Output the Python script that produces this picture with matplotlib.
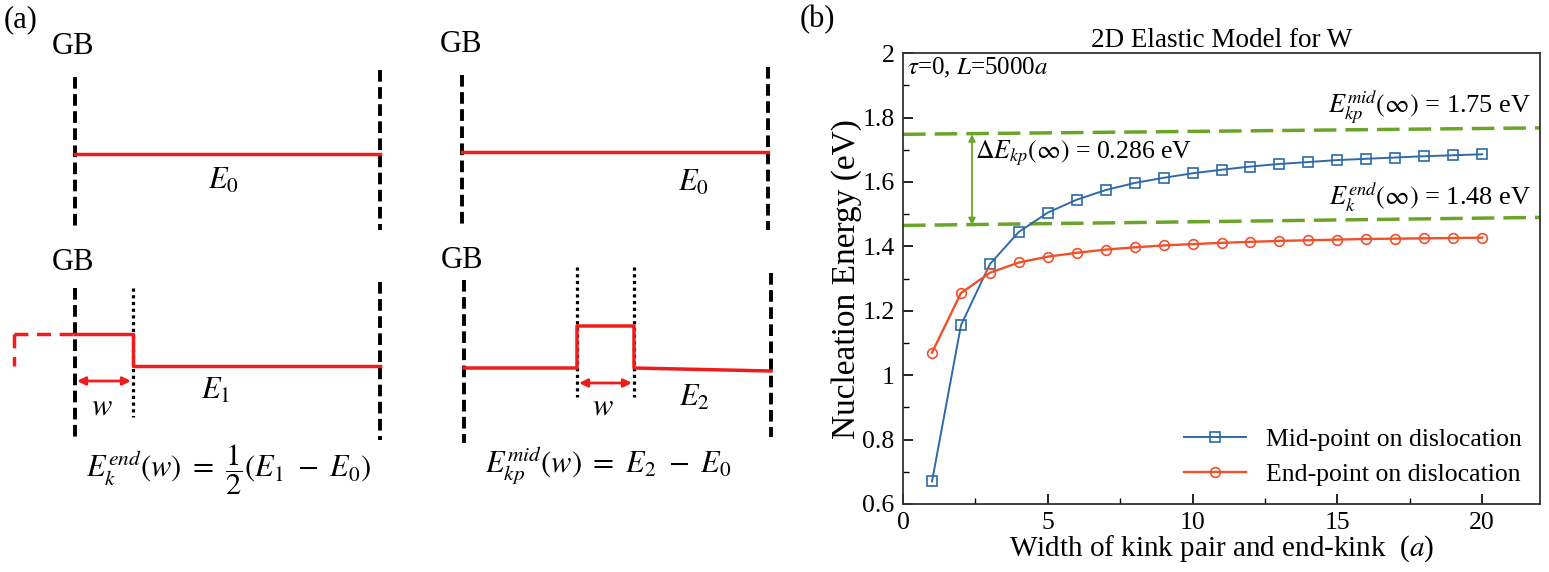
import matplotlib
matplotlib.use("Agg")
import matplotlib.pyplot as plt

plt.rcParams["font.family"] = ["Liberation Serif", "DejaVu Serif"]
plt.rcParams["mathtext.fontset"] = "stix"

# panel (b) data
width = list(range(1, 21))
e_mid = [0.670, 1.155, 1.345, 1.445, 1.505, 1.545, 1.575, 1.597, 1.613, 1.627,
         1.638, 1.648, 1.656, 1.662, 1.668, 1.672, 1.676, 1.680, 1.683, 1.686]
e_end = [1.070, 1.255, 1.318, 1.350, 1.368, 1.380, 1.390, 1.397, 1.403, 1.407,
         1.411, 1.414, 1.417, 1.419, 1.421, 1.423, 1.424, 1.425, 1.426, 1.427]
ref_x = [0, 22]
ref_mid = [1.748, 1.768]
ref_end = [1.465, 1.490]

BLUE = "#2f6aa6"
RED = "#f0502a"
GREEN = "#6aa52a"
SRED = "#ee1c1c"

fig = plt.figure(figsize=(15.49, 5.72), dpi=100)

# ---- panel (a): schematic drawn in pixel coordinates
sk = fig.add_axes([0, 0, 1, 1])
sk.set_xlim(0, 1549)
sk.set_ylim(572, 0)
sk.axis("off")

dash = dict(color="black", lw=2.8, ls=(0, (3.0, 1.4)))
dots = dict(color="black", lw=2.3, ls=(0, (1, 1.1)))
red = dict(color=SRED, lw=2.5)

# vertical boundaries: (x, y_top, y_bottom)
gb_dashed = [(75, 77, 230), (380, 70, 230), (462, 75, 227), (768, 67, 230),
             (75, 288, 440), (380, 282, 440), (464, 280, 443), (771, 273, 437)]
for x, y0, y1 in gb_dashed:
    sk.plot([x, x], [y0, y1], **dash)
kink_dotted = [(133, 288, 417), (577, 267, 397), (634, 267, 397)]
for x, y0, y1 in kink_dotted:
    sk.plot([x, x], [y0, y1], **dots)

# straight dislocations
sk.plot([75, 380], [154, 154], **red)
sk.plot([462, 768], [152, 152], **red)
# end kink
sk.plot([75, 133, 133, 380], [334, 334, 366, 366], **red)
sk.plot([14, 75], [334, 334], color=SRED, lw=2.5, ls=(0, (4, 2.5)))
sk.plot([14, 14], [334, 366], color=SRED, lw=2.5, ls=(0, (4, 2.5)))
# kink pair
sk.plot([464, 577, 577, 634, 634, 771], [368, 368, 326, 326, 368, 371], **red)

arrow = dict(arrowstyle="<|-|>", color=SRED, lw=2, mutation_scale=12,
             shrinkA=0, shrinkB=0)
sk.annotate("", xy=(77, 381), xytext=(131, 381), arrowprops=arrow)
sk.annotate("", xy=(579, 383), xytext=(632, 383), arrowprops=arrow)

tk = dict(fontsize=22, va="center")
sk.text(4, 20, "(a)", **tk)
sk.text(800, 20, "(b)", **tk)
for x, y in [(52, 47), (440, 44), (52, 263), (441, 260)]:
    sk.text(x, y, "GB", **tk)
sk.text(223, 181, r"$E_0$", ha="center", **tk)
sk.text(693, 183, r"$E_0$", ha="center", **tk)
sk.text(216, 391, r"$E_1$", ha="center", **tk)
sk.text(694, 398, r"$E_2$", ha="center", **tk)
sk.text(102, 407, r"$w$", ha="center", **tk)
sk.text(603, 407, r"$w$", ha="center", **tk)
sk.text(229, 470, r"$E_k^{end}(w)\ =\ \dfrac{1}{2}(E_1\ -\ E_0)$", ha="center",
        fontsize=22, va="center")
sk.text(608, 465, r"$E_{kp}^{mid}(w)\ =\ E_2\ -\ E_0$", ha="center",
        fontsize=22, va="center")

# ---- panel (b): nucleation energy vs width
ax = fig.add_axes([0.583, 0.119, 0.4112, 0.788])
ax.plot(ref_x, ref_mid, color=GREEN, lw=2.5, ls=(0, (6.5, 2.6)))
ax.plot(ref_x, ref_end, color=GREEN, lw=2.5, ls=(0, (6.5, 2.6)))
ax.annotate("", xy=(2.38, 1.748), xytext=(2.38, 1.466),
            arrowprops=dict(arrowstyle="<|-|>", color=GREEN, lw=1.3,
                            mutation_scale=10, shrinkA=0, shrinkB=0))
ax.plot(width, e_mid, color=BLUE, lw=1.4, marker="s", ms=6.5, mfc="none",
        mew=1.2, label="Mid-point on dislocation")
ax.plot(width, e_end, color=RED, lw=1.7, marker="o", ms=7, mfc="none",
        mew=1.2, label="End-point on dislocation")

ax.text(2.5, 1.69, r"$\Delta E_{kp}(\infty)$ = 0.286 eV", fontsize=18.5,
        va="center")
ax.text(21.7, 1.835, r"$E_{kp}^{mid}(\infty)$ = 1.75 eV", fontsize=19,
        ha="right", va="center")
ax.text(21.7, 1.555, r"$E_{k}^{end}(\infty)$ = 1.48 eV", fontsize=19,
        ha="right", va="center")
ax.text(0.15, 1.955, r"$\tau$=0, $L$=5000$a$", fontsize=18, va="center")

ax.set_xlim(0, 22)
ax.set_ylim(0.6, 2.0)
ax.set_xticks([0, 5, 10, 15, 20])
ax.set_xticks([2.5, 7.5, 12.5, 17.5], minor=True)
ax.set_yticks([0.6, 0.8, 1.0, 1.2, 1.4, 1.6, 1.8, 2.0])
ax.set_yticklabels(["0.6", "0.8", "1", "1.2", "1.4", "1.6", "1.8", "2"])
ax.set_yticks([0.7, 0.9, 1.1, 1.3, 1.5, 1.7, 1.9], minor=True)
ax.tick_params(which="both", direction="in", labelsize=18.5, top=False,
               right=False)
ax.tick_params(which="major", length=7, width=1.2, pad=6)
ax.tick_params(which="minor", length=4, width=1.0)
for s in ax.spines.values():
    s.set_linewidth(1.3)
    s.set_color("#333333")

ax.set_title("2D Elastic Model for W", fontsize=19.5, pad=4)
ax.set_xlabel(r"Width of kink pair and end-kink  ($a$)", fontsize=21,
              labelpad=-1)
ax.set_ylabel("Nucleation Energy (eV)", fontsize=24, labelpad=0)
ax.legend(loc="lower right", frameon=False, fontsize=18.5, handlelength=2.4,
          borderaxespad=0.3, labelspacing=0.45)

fig.savefig("out.png", dpi=100)
